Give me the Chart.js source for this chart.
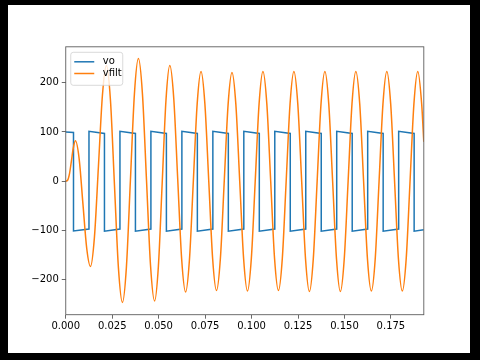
<!DOCTYPE html>
<html><head><meta charset="utf-8">
<script src="https://cdn.jsdelivr.net/npm/chart.js@4/dist/chart.umd.min.js"></script>
<style>
html,body{margin:0;padding:0;background:#000;width:480px;height:360px;overflow:hidden}
#fig{position:absolute;left:8px;top:5px;width:462px;height:348px;background:#fff}
canvas{display:block}
</style></head><body>
<div id="fig"><canvas id="c" width="462" height="348"></canvas></div>
<script>
const xTicks=[0,0.025,0.05,0.075,0.1,0.125,0.15,0.175];
const yTicks=[-200,-100,0,100,200];
const seriesNames=['vo','vfilt'];
const seriesColors=['#1f77b4','#ff7f0e'];

const voT=[0,0.00417, 0.00417,0.0125, 0.0125,0.02083, 0.02083,0.02917, 0.02917,0.0375, 0.0375,0.04583,
0.04583,0.05417, 0.05417,0.0625, 0.0625,0.07083, 0.07083,0.07917, 0.07917,0.0875, 0.0875,0.09583,
0.09583,0.10417, 0.10417,0.1125, 0.1125,0.12083, 0.12083,0.12917, 0.12917,0.1375, 0.1375,0.14583,
0.14583,0.15417, 0.15417,0.1625, 0.1625,0.17083, 0.17083,0.17917, 0.17917,0.1875, 0.1875,0.1927];
const voV=[100,99,-101,-97,
101.5,97,-101.5,-97,
101.5,97,-101.5,-97,
101.5,97,-101.5,-97,
101.5,97,-101.5,-97,
101.5,97,-101.5,-97,
101.5,97,-101.5,-97,
101.5,97,-101.5,-97,
101.5,97,-101.5,-97,
101.5,97,-101.5,-97,
101.5,97,-101.5,-97,
101.5,97,-101.5,-98.7];

const vfT=[0,0.001,0.002,0.003,0.004,0.0052,
0.00723,0.00925,0.01128,0.0133,
0.01545,0.0176,0.01975,0.0219,
0.02405,0.0262,0.02835,0.0305,
0.03265,0.0348,0.03695,0.0391,
0.04128,0.04345,0.04563,0.0478,
0.04985,0.0519,0.05395,0.056,
0.05813,0.06025,0.06238,0.0645,
0.06658,0.06865,0.07073,0.0728,
0.07488,0.07697,0.07905,0.08113,
0.08322,0.0853,0.08738,0.08947,
0.09155,0.09363,0.09572,0.0978,
0.09988,0.10197,0.10405,0.10613,
0.10822,0.1103,0.11238,0.11447,
0.11655,0.11863,0.12072,0.1228,
0.12488,0.12697,0.12905,0.13113,
0.13322,0.1353,0.13738,0.13947,
0.14155,0.14363,0.14572,0.1478,
0.14988,0.15197,0.15405,0.15613,
0.15822,0.1603,0.16238,0.16447,
0.16655,0.16863,0.17072,0.1728,
0.17488,0.17697,0.17905,0.18113,
0.18322,0.1853,0.18738,0.18947,
0.19155,0.1927];
const vfV=[0,2,15,40,66,82,
45,-46,-136,-173,
-113,31,175,235,
165,-6,-176,-246,
-174,2,177,249,
177,3,-171,-243,
-173,-4,165,235,
168,5,-158,-225,
-159,-1,157,223,
157,0,-157,-222,
-157,0,156,221,
156,0,-157,-223,
-157,0,157,223,
157,0,-157,-222,
-157,0,157,223,
157,0,-158,-224,
-158,0,157,223,
157,0,-158,-224,
-158,0,157,223,
157,0,-158,-223,
-158,0,157,223,
157,0,-158,-223,
-158,0,157,223,
157,80];

const FONT='"DejaVu Sans", sans-serif';
const framePlugin={
  id:'frame',
  afterDatasetsDraw(chart){
    const {ctx,chartArea:a}=chart;
    ctx.save();
    ctx.strokeStyle='#5e5e5e';
    ctx.lineWidth=0.9;
    ctx.strokeRect(a.left,a.top,a.right-a.left,a.bottom-a.top);
    // legend
    const bx=a.left+5, by=a.top+5.5, bw=52, bh=33, r=2.5;
    ctx.beginPath();
    ctx.moveTo(bx+r,by);
    ctx.lineTo(bx+bw-r,by); ctx.arcTo(bx+bw,by,bx+bw,by+r,r);
    ctx.lineTo(bx+bw,by+bh-r); ctx.arcTo(bx+bw,by+bh,bx+bw-r,by+bh,r);
    ctx.lineTo(bx+r,by+bh); ctx.arcTo(bx,by+bh,bx,by+bh-r,r);
    ctx.lineTo(bx,by+r); ctx.arcTo(bx,by,bx+r,by,r);
    ctx.closePath();
    ctx.fillStyle='rgba(255,255,255,0.8)';
    ctx.fill();
    ctx.strokeStyle='#d0d0d0';
    ctx.lineWidth=0.8;
    ctx.stroke();
    const rowsY=[by+9.5, by+21.2];
    chart.data.datasets.forEach((ds,i)=>{
      const y=rowsY[i];
      ctx.beginPath();
      ctx.moveTo(bx+3.5,y); ctx.lineTo(bx+23.5,y);
      ctx.strokeStyle=ds.borderColor; ctx.lineWidth=1.5; ctx.stroke();
      ctx.fillStyle='#000';
      ctx.font='10px '+FONT;
      ctx.textBaseline='middle';
      ctx.textAlign='left';
      ctx.fillText(ds.label,bx+32,y);
    });
    ctx.restore();
  }
};

const tickFont={size:10,family:FONT};
new Chart(document.getElementById('c'),{
  type:'line',
  data:{datasets:[
    {label:seriesNames[0],data:voT.map((t,i)=>({x:t,y:voV[i]})),borderColor:seriesColors[0],borderWidth:1.5,pointRadius:0,tension:0,fill:false,order:1},
    {label:seriesNames[1],data:vfT.map((t,i)=>({x:t,y:vfV[i]})),borderColor:seriesColors[1],borderWidth:1.5,pointRadius:0,cubicInterpolationMode:'monotone',fill:false,order:0}
  ]},
  options:{
    responsive:false,animation:false,devicePixelRatio:1,
    layout:{padding:{left:0,top:41.8,right:46.2,bottom:0}},
    plugins:{legend:{display:false},tooltip:{enabled:false}},
    scales:{
      x:{type:'linear',min:0,max:0.1927,
        afterBuildTicks:s=>{s.ticks=xTicks.map(v=>({value:v}));},
        afterFit:s=>{s.height=38.3;},
        ticks:{callback:v=>Number(v).toFixed(3),color:'#000',padding:2,maxRotation:0,autoSkip:false,font:tickFont},
        grid:{drawOnChartArea:false,drawTicks:true,tickLength:4,color:'#444',lineWidth:0.8},
        border:{display:false}},
      y:{type:'linear',min:-271,max:273,
        afterBuildTicks:s=>{s.ticks=yTicks.map(v=>({value:v}));},
        afterFit:s=>{s.width=57.75;},
        ticks:{callback:v=>v<0?'\u2212'+Math.abs(v):String(v),color:'#000',padding:3,autoSkip:false,font:tickFont},
        grid:{drawOnChartArea:false,drawTicks:true,tickLength:4,color:'#444',lineWidth:0.8},
        border:{display:false}}
    }
  },
  plugins:[framePlugin]
});
</script>
</body></html>
